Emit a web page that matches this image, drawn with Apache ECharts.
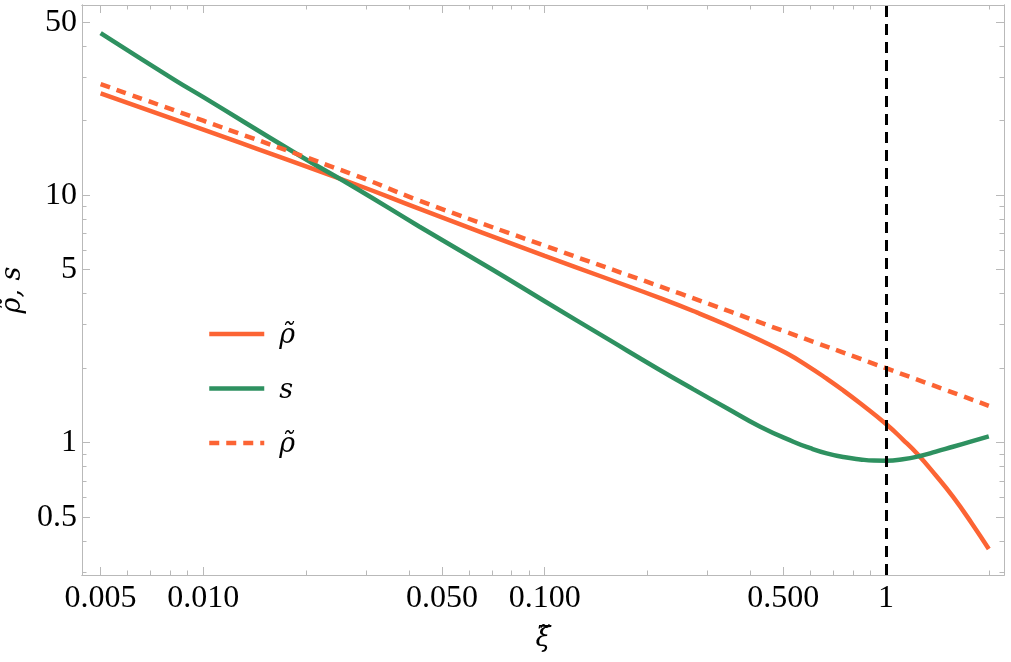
<!DOCTYPE html>
<html>
<head>
<meta charset="utf-8">
<script src="https://cdn.jsdelivr.net/npm/echarts@6/dist/echarts.min.js"></script>
<style>
  html, body { margin: 0; padding: 0; background: #fff; }
  #chart { width: 1011px; height: 662px; }
</style>
</head>
<body>
<div id="chart"></div>
<script>
// values, log-log plot
const rhoXi = [0.005, 0.01, 0.028, 0.043, 0.1, 0.15, 0.22, 0.28, 0.34, 0.43, 0.51, 0.59, 0.67, 0.75, 0.84, 1.0, 1.12, 1.23, 1.4, 1.57, 1.78, 2.0]
const rhoVal = [25.8, 18.4, 11.05, 8.8, 5.69, 4.64, 3.82, 3.352, 2.995, 2.587, 2.302, 2.04, 1.815, 1.625, 1.443, 1.19, 1.03, 0.906, 0.737, 0.605, 0.474, 0.372]

const sXi = [0.005, 0.00825, 0.01, 0.019, 0.028, 0.043, 0.07, 0.1, 0.1555, 0.218, 0.273, 0.342, 0.428, 0.535, 0.6, 0.67, 0.75, 0.84, 0.92, 1.0, 1.12, 1.26, 1.4, 1.57, 1.78, 2.0]
const sVal = [45.2, 29.2, 24.9, 14.54, 10.67, 7.46, 5.02, 3.73, 2.59, 1.963, 1.642, 1.378, 1.16, 1.009, 0.95, 0.906, 0.875, 0.856, 0.847, 0.846, 0.857, 0.884, 0.92, 0.963, 1.012, 1.06]

const rhoAsymXi = [0.005, 0.01, 0.028, 0.043, 0.1, 0.25, 0.5, 1.0, 2.0]
const rhoAsymVal = [28.1, 20.0, 12.0, 9.5, 6.25, 4.0, 2.83, 2.0, 1.41]

const markerXi = 1

const xRange = [0.00441, 2.216]
const yRange = [0.292, 58.7]

const xMajor = [0.005, 0.01, 0.05, 0.1, 0.5, 1]
const xMajorLabels = ['0.005', '0.010', '0.050', '0.100', '0.500', '1']
const xMinor = [0.006, 0.007, 0.008, 0.009, 0.02, 0.03, 0.04, 0.06, 0.07, 0.08, 0.09, 0.2, 0.3, 0.4, 0.6, 0.7, 0.8, 0.9, 2]

const yMajor = [0.5, 1, 5, 10, 50]
const yMajorLabels = ['0.5', '1', '5', '10', '50']
const yMinor = [0.3, 0.4, 0.6, 0.7, 0.8, 0.9, 2, 3, 4, 6, 7, 8, 9, 20, 30, 40]

const legendText = { rho: 'ρ̃', s: 's', rhoAsym: 'ρ̃' }

const orange = '#fc6434'
const green = '#2e9160'
const frameColor = '#b9b9b9'
const serif = 'Liberation Serif'
const mathFont = 'DejaVu Serif'

const lg = Math.log10
const toPoints = (xs, ys) => xs.map((x, i) => [lg(x), lg(ys[i])])

function labelFor(values, labels) {
  return v => {
    let best = 0
    values.forEach((t, i) => {
      if (Math.abs(lg(t) - v) < Math.abs(lg(values[best]) - v)) best = i
    })
    return labels[best]
  }
}

function axis(position, range, ticks, len, label) {
  const a = {
    type: 'value',
    position,
    min: lg(range[0]),
    max: lg(range[1]),
    axisLine: { show: true, onZero: false, lineStyle: { color: frameColor, width: 1 } },
    axisTick: { show: true, inside: true, length: len, customValues: ticks.map(lg), lineStyle: { color: frameColor, width: 1 } },
    axisLabel: { show: false },
    splitLine: { show: false },
    axisPointer: { show: false },
  }
  if (label) {
    a.axisLabel = {
      show: true,
      customValues: label.values.map(lg),
      formatter: labelFor(label.values, label.text),
      margin: label.margin,
      color: '#000',
      fontFamily: serif,
      fontSize: 32,
    }
  }
  return a
}

const xBottom = axis('bottom', xRange, xMajor, 8, { values: xMajor, text: xMajorLabels, margin: 8 })
xBottom.name = 'ξ̃'
xBottom.nameLocation = 'middle'
xBottom.nameGap = 50
xBottom.nameTextStyle = { fontFamily: mathFont, fontStyle: 'italic', fontSize: 27, color: '#000' }

const yLeft = axis('left', yRange, yMajor, 8, { values: yMajor, text: yMajorLabels, margin: 5 })
yLeft.name = 'ρ̃, s'
yLeft.nameLocation = 'middle'
yLeft.nameGap = 48
yLeft.nameTextStyle = { fontFamily: mathFont, fontStyle: 'italic', fontSize: 27, color: '#000' }

const chart = echarts.init(document.getElementById('chart'))

chart.setOption({
  animation: false,
  grid: { left: 82, right: 7, top: 5, bottom: 87, outerBoundsMode: 'none' },
  xAxis: [
    xBottom,
    axis('bottom', xRange, xMinor, 4.5),
    axis('top', xRange, xMajor, 8),
    axis('top', xRange, xMinor, 4.5),
  ],
  yAxis: [
    yLeft,
    axis('left', yRange, yMinor, 4.5),
    axis('right', yRange, yMajor, 8),
    axis('right', yRange, yMinor, 4.5),
  ],
  legend: {
    orient: 'vertical',
    left: 207,
    top: 322,
    padding: 0,
    itemWidth: 55,
    itemHeight: 30,
    itemGap: 27,
    selectedMode: false,
    data: ['rho', 's', 'rhoAsym'],
    itemStyle: { opacity: 0 },
    lineStyle: { width: 4.5 },
    formatter: name => `{t|${legendText[name]}}`,
    textStyle: {
      rich: {
        t: { fontFamily: mathFont, fontStyle: 'italic', fontSize: 27, color: '#000', padding: [4, 0, 0, 10] },
      },
    },
  },
  series: [
    {
      name: 'rho',
      type: 'line',
      data: toPoints(rhoXi, rhoVal),
      showSymbol: false,
      symbol: 'none',
      smooth: 0.5,
      lineStyle: { color: orange, width: 4.5 },
      itemStyle: { color: orange },
    },
    {
      name: 's',
      type: 'line',
      data: toPoints(sXi, sVal),
      showSymbol: false,
      symbol: 'none',
      smooth: 0.5,
      lineStyle: { color: green, width: 4.5 },
      itemStyle: { color: green },
    },
    {
      name: 'rhoAsym',
      type: 'line',
      data: toPoints(rhoAsymXi, rhoAsymVal),
      showSymbol: false,
      symbol: 'none',
      smooth: 0.5,
      lineStyle: { color: orange, width: 4.5, type: [10, 7] },
      itemStyle: { color: orange },
      markLine: {
        silent: true,
        symbol: ['none', 'none'],
        label: { show: false },
        lineStyle: { color: '#000', width: 3, type: [11, 7] },
        data: [{ xAxis: lg(markerXi) }],
      },
    },
  ],
})
</script>
</body>
</html>
